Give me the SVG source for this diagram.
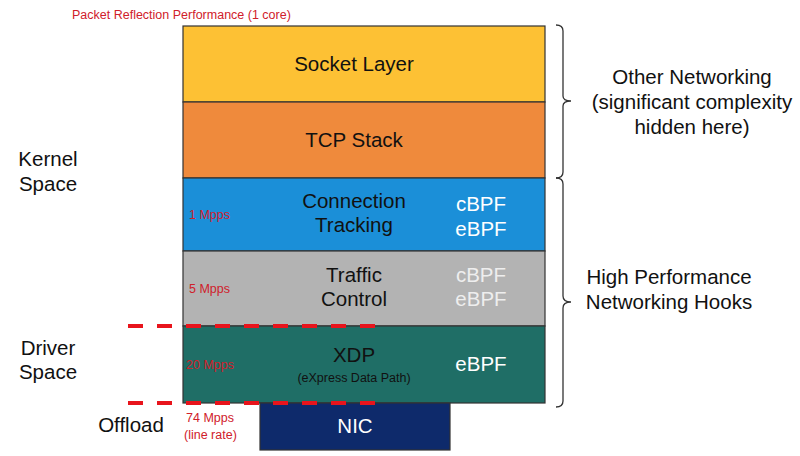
<svg xmlns="http://www.w3.org/2000/svg" width="800" height="456" viewBox="0 0 800 456">
<style>
text{font-family:"Liberation Sans",Arial,sans-serif}
.box{stroke:#333;stroke-width:1.2}
.t{font-size:20.5px;fill:#111;text-anchor:middle}
.w{font-size:20.5px;fill:#fff;text-anchor:middle}
.g{font-size:20.5px;fill:#eee;text-anchor:middle}
.r{font-size:12.5px;fill:#d0202a}
.s{font-size:20.5px;fill:#111;text-anchor:middle}
.br{fill:none;stroke:#333;stroke-width:1.3}
.dash{stroke:#e8141c;stroke-width:4;stroke-dasharray:15 14}
</style>
<rect width="800" height="456" fill="#fff"/>
<text x="72" y="19" class="r">Packet Reflection Performance (1 core)</text>
<g id="socket"><rect class="box" x="183" y="26" width="362" height="76" fill="#FDC134"/><text class="t" x="354" y="71">Socket Layer</text></g>
<g id="tcp"><rect class="box" x="183" y="102" width="362" height="76" fill="#EF8A3C"/><text class="t" x="354" y="147">TCP Stack</text></g>
<g id="conntrack"><rect class="box" x="183" y="178" width="362" height="73" fill="#1B8FD8"/><text class="t" x="354" y="208">Connection</text><text class="t" x="354" y="232">Tracking</text><text class="w" x="481" y="211">cBPF</text><text class="w" x="481" y="236">eBPF</text><text class="r" x="189" y="219">1 Mpps</text></g>
<g id="tc"><rect class="box" x="183" y="251" width="362" height="75" fill="#B3B3B3"/><text class="t" x="354" y="282">Traffic</text><text class="t" x="354" y="306">Control</text><text class="g" x="481" y="282">cBPF</text><text class="g" x="481" y="306">eBPF</text><text class="r" x="189" y="293">5 Mpps</text></g>
<g id="xdp"><rect class="box" x="183" y="326" width="362" height="77" fill="#1F6E66"/><text class="t" x="354" y="362">XDP</text><text x="354" y="382" style="font-size:12.5px;fill:#111;text-anchor:middle">(eXpress Data Path)</text><text class="w" x="481" y="371">eBPF</text><text class="r" x="186" y="369">20 Mpps</text></g>
<g id="nic"><rect class="box" x="260" y="403" width="190" height="47" fill="#0E2A6B"/><text class="w" x="355" y="433">NIC</text><text class="r" x="186" y="422">74 Mpps</text><text class="r" x="184" y="439">(line rate)</text></g>
<g id="labels">
<text class="s" x="48" y="166">Kernel</text><text class="s" x="48" y="191">Space</text>
<text class="s" x="48" y="355">Driver</text><text class="s" x="48" y="379">Space</text>
<text class="s" x="131" y="432">Offload</text>
<text class="s" x="692" y="84">Other Networking</text><text class="s" x="692" y="109">(significant complexity</text><text class="s" x="692" y="134">hidden here)</text>
<text class="s" x="669" y="284">High Performance</text><text class="s" x="669" y="309">Networking Hooks</text>
</g>
<g id="connectors">
<line class="dash" x1="128" y1="326" x2="376" y2="326"/>
<line class="dash" x1="128" y1="403" x2="376" y2="403"/>
<path class="br" d="M556 25 Q563 25 563 31 V96 Q563 101 571 101 Q563 101 563 106 V172 Q563 178 556 178"/>
<path class="br" d="M556 178 Q563 178 563 184 V296 Q563 302 571 302 Q563 302 563 308 V401 Q563 407 556 407"/>
</g>
</svg>
